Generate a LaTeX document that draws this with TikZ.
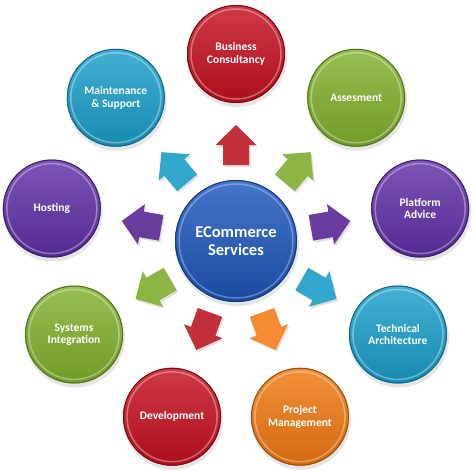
\documentclass[tikz,border=0pt]{standalone}
\usepackage{fontspec}
\setmainfont{Carlito}
\definecolor{cred}{HTML}{C4101F}
\definecolor{cgreen}{HTML}{80B02C}
\definecolor{cpurple}{HTML}{6030A6}
\definecolor{cteal}{HTML}{1A9EC9}
\definecolor{corange}{HTML}{F07810}
\definecolor{cblue}{HTML}{1D58BE}
\definecolor{ared}{HTML}{C4303A}
\definecolor{agreen}{HTML}{8DB544}
\definecolor{apurple}{HTML}{6A3C9E}
\definecolor{ateal}{HTML}{33A8CF}
\definecolor{aorange}{HTML}{F58A33}
\tikzset{
  ball/.style={circle, inner sep=0pt, align=center, text=white,
    font=\bfseries\fontsize{11.5}{12.5}\selectfont},
  arrowshadow/.style={fill=black, opacity=.12}
}
\newcommand\mysat[4]{%
  \fill[black,opacity=.10] ([shift={(#2:187pt)}]c.center) ++(1pt,-3pt) circle[radius=50pt];
  \node[ball, minimum size=98pt, top color=#3!82!white, bottom color=#3!88!black] (#1)
    at ([shift={(#2:187pt)}]c.center) {#4};
  \draw[#3!65!black, line width=1pt] (#1.center) circle[radius=48.5pt];
  \draw[white, opacity=.35, line width=1.5pt] (#1.center) circle[radius=45pt];
}
\newcommand\myarrow[3]{%
  \fill[arrowshadow, shift={(c.center)}, shift={(1.5,-2)}, rotate=#2]
    (76,-13) -- (96,-13) -- (96,-20.5) -- (116,0) -- (96,20.5) -- (96,13) -- (76,13) -- cycle;
  \fill[#3, shift={(c.center)}, rotate=#2]
    (76,-13) -- (96,-13) -- (96,-20.5) -- (116,0) -- (96,20.5) -- (96,13) -- (76,13) -- cycle;
  \coordinate (#1) at ([shift={(#2:96pt)}]c.center);
}
\begin{document}
\begin{tikzpicture}[x=1pt,y=1pt]
\fill[white] (0,-471) rectangle (474,0);
\useasboundingbox (0,-471) rectangle (474,0);
\fill[black,opacity=.10] (237,-244) circle[radius=62pt];
\node[ball, minimum size=122pt, top color=cblue!82!white, bottom color=cblue!85!black,
  font=\bfseries\fontsize{16.5}{18.5}\selectfont] (c) at (236,-241) {ECommerce\\Services};
\draw[cblue!65!black, line width=1pt] (c.center) circle[radius=60.5pt];
\draw[white, opacity=.3, line width=1.5pt] (c.center) circle[radius=57pt];
\mysat{bc}{90}{cred}{Business\\Consultancy}
\mysat{as}{50}{cgreen}{Assesment}
\mysat{pa}{10}{cpurple}{Platform\\Advice}
\mysat{ta}{-30}{cteal}{Technical\\Architecture}
\mysat{pm}{-70}{corange}{Project\\Management}
\mysat{dv}{-110}{cred}{Development}
\mysat{si}{-150}{cgreen}{Systems\\Integration}
\mysat{ho}{170}{cpurple}{Hosting}
\mysat{ms}{130}{cteal}{Maintenance\\\& Support}
\myarrow{abc}{90}{ared}
\myarrow{aas}{50}{agreen}
\myarrow{apa}{10}{apurple}
\myarrow{ata}{-30}{ateal}
\myarrow{apm}{-70}{aorange}
\myarrow{adv}{-110}{ared}
\myarrow{asi}{-150}{agreen}
\myarrow{aho}{170}{apurple}
\myarrow{ams}{130}{ateal}
\end{tikzpicture}
\end{document}
